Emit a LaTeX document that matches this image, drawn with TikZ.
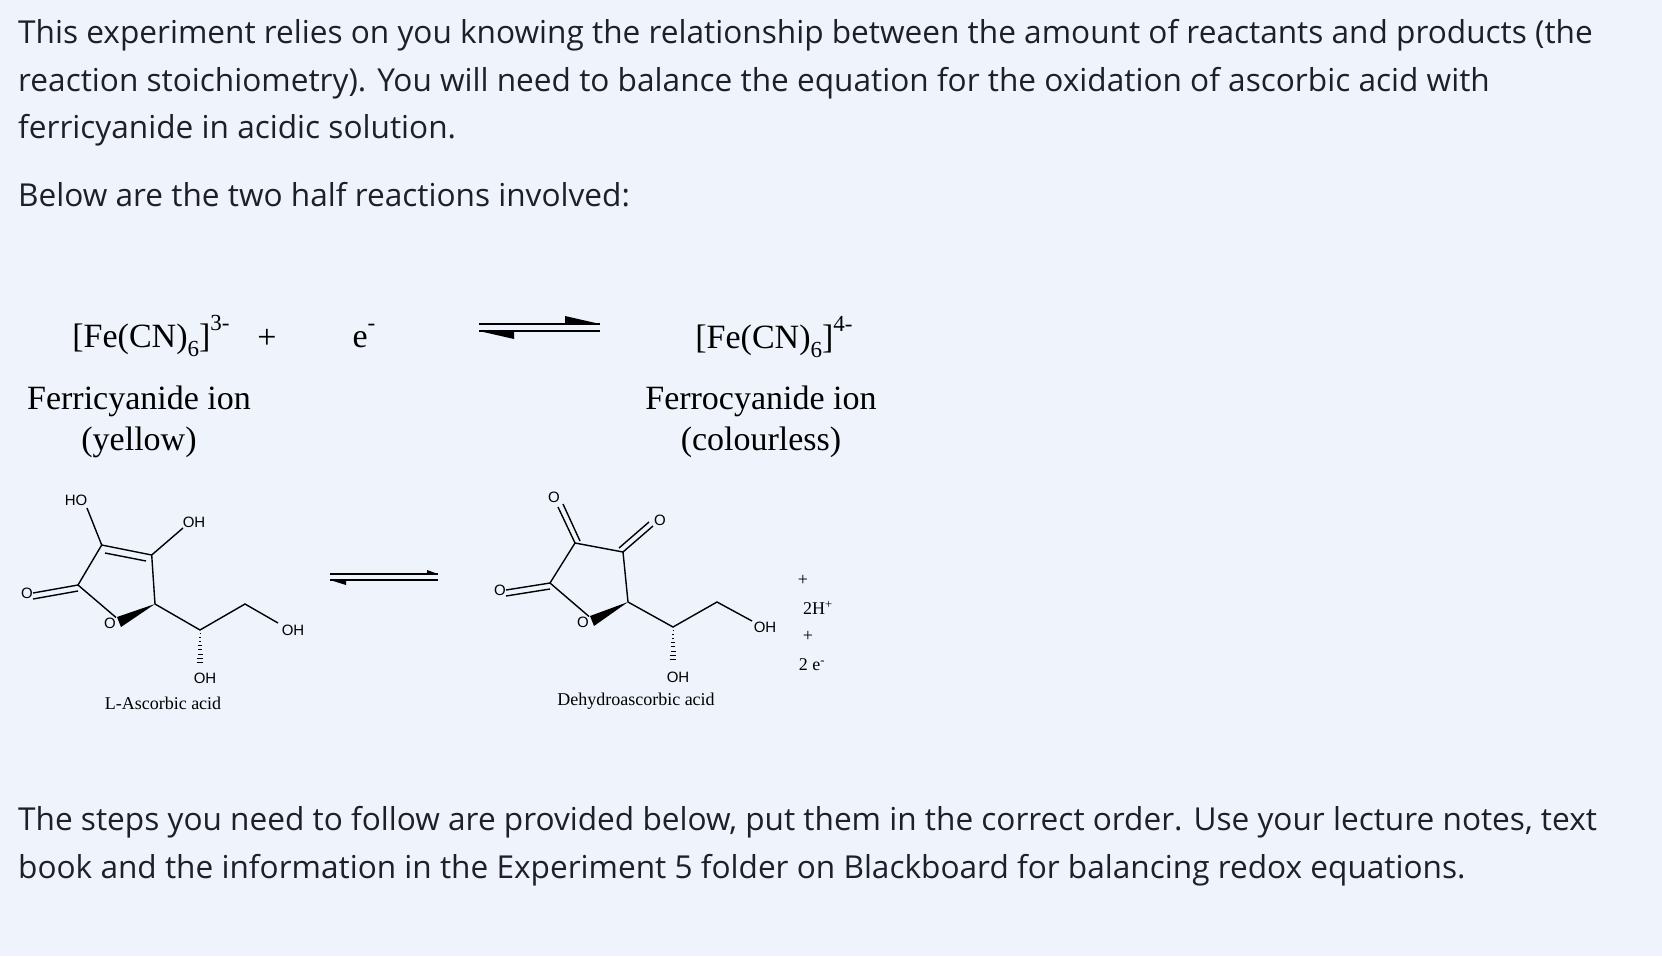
\documentclass[tikz,border=0pt]{standalone}
\usepackage{fontspec}
\usetikzlibrary{calc}
\setmainfont{Open Sans}
\newfontfamily\serifchem{Liberation Serif}
\newfontfamily\sanschem{Liberation Sans}
\definecolor{bg}{HTML}{EEF3FC}
\definecolor{ink}{HTML}{1E1F2B}
\newcommand{\mysub}[1]{\raisebox{-0.28em}{\fontsize{23}{24}\selectfont #1}}
\newcommand{\mysup}[1]{\raisebox{0.5em}{\fontsize{23}{24}\selectfont #1}}
\begin{document}
\begin{tikzpicture}[x=1pt,y=-1pt,
  body/.style={anchor=west,inner sep=0,text=ink,font=\fontsize{31.6}{36}\selectfont},
  eq/.style={inner sep=0,font=\serifchem\fontsize{34}{38}\selectfont},
  lbl/.style={inner sep=0,font=\serifchem\fontsize{18}{20}\selectfont},
  atom/.style={inner sep=0,font=\sanschem\fontsize{15}{16}\selectfont},
  bond/.style={line width=1.4pt},
  hash/.style={line width=1pt}]
\fill[bg] (0,0) rectangle (1662,956);
\useasboundingbox (0,0) rectangle (1662,956);
\node[body] (t1) at (18,35) {This experiment relies on you knowing the relationship between the amount of reactants and products (the};
\node[body] (t2) at (18,83) {reaction stoichiometry). You will need to balance the equation for the oxidation of ascorbic acid with};
\node[body] (t3) at (18,130) {ferricyanide in acidic solution.};
\node[body] (t4) at (18,195) {Below are the two half reactions involved:};
\node[body] (t5) at (18,822) {The steps you need to follow are provided below, put them in the correct order. Use your lecture notes, text};
\node[body] (t6) at (18,870) {book and the information in the Experiment 5 folder on Blackboard for balancing redox equations.};
% top equation
\node[eq] (fe3) at (151,336) {[Fe(CN)\mysub{6}]\mysup{3-}};
\node[eq] (p1) at (267,339) {+};
\node[eq] (el) at (364,336) {e\mysup{-}};
\node[eq] (fe4) at (774,337) {[Fe(CN)\mysub{6}]\mysup{4-}};
\node[eq] (n1) at (139,401) {Ferricyanide ion};
\node[eq] (n2) at (139,442) {(yellow)};
\node[eq] (n3) at (761,401) {Ferrocyanide ion};
\node[eq] (n4) at (761,442) {(colourless)};
\coordinate (a1) at (479,324); \coordinate (a2) at (600,324);
\coordinate (a3) at (479,331); \coordinate (a4) at (600,331);
\draw[line width=1.6pt] (a1) -- (a2);
\fill (a2) -- (565,316) -- (565,324) -- cycle;
\draw[line width=1.6pt] (a3) -- (a4);
\fill (a3) -- (514,339) -- (514,331) -- cycle;
% ascorbic acid
\coordinate (c1) at (101.7,545); \coordinate (c2) at (151.7,555);
\coordinate (c3) at (155,604); \coordinate (c4) at (78,585);
\coordinate (c5) at (200,630); \coordinate (c6) at (245,604);
\node[atom] (or1) at (110,623) {O};
\node[atom] (oc1) at (27,593) {O};
\node[atom] (ho1) at (76,500) {HO};
\node[atom] (oh1) at (194,522) {OH};
\node[atom] (oh2) at (293,630) {OH};
\node[atom] (oh3) at (205,678) {OH};
\draw[bond] (c4) -- (c1) -- (c2) -- (c3);
\draw[bond] (105,553) -- (146,561);
\draw[bond] (c4) -- (or1.north east);
\fill (c3) -- (117,617) -- (121,627) -- cycle;
\draw[bond] (c4) -- (oc1.east);
\draw[bond] ($(c4)+(0,6)$) -- ($(oc1.east)+(0,6)$);
\draw[bond] (c1) -- (87,508);
\draw[bond] (c2) -- (183,528);
\draw[bond] (c3) -- (c5) -- (c6) -- (278,623);
\foreach \i in {0,...,7} {\draw[hash] (200-0.5-\i*0.4,633+\i*4.2) -- (200+0.5+\i*0.4,633+\i*4.2);}
\node[lbl] (la) at (163,703) {L-Ascorbic acid};
% middle arrow
\coordinate (b1) at (330,574); \coordinate (b2) at (438,574);
\coordinate (b3) at (330,580); \coordinate (b4) at (438,580);
\draw[line width=1.3pt] (b1) -- (b2);
\fill (b2) -- (427,570) -- (427,574) -- cycle;
\draw[line width=1.3pt] (b3) -- (b4);
\fill (b3) -- (346,585) -- (346,580) -- cycle;
% dehydroascorbic acid
\coordinate (d1) at (575,543); \coordinate (d2) at (623,552);
\coordinate (d3) at (628,602); \coordinate (d4) at (550,583);
\coordinate (d5) at (673,627); \coordinate (d6) at (717,602);
\node[atom] (or2) at (583,622) {O};
\node[atom] (oc2) at (500,590) {O};
\node[atom] (oc3) at (554,497) {O};
\node[atom] (oc4) at (660,520) {O};
\node[atom] (oh4) at (765,627) {OH};
\node[atom] (oh5) at (678,677) {OH};
\draw[bond] (d4) -- (d1) -- (d2) -- (d3);
\draw[bond] (d4) -- (or2.north east);
\fill (d3) -- (590,616) -- (594,626) -- cycle;
\draw[bond] (d4) -- (oc2.east);
\draw[bond] ($(d4)+(0,6)$) -- ($(oc2.east)+(0,6)$);
\draw[bond] (d1) -- (558,507);
\draw[bond] ($(d1)+(5,-2)$) -- (563,504);
\draw[bond] (d2) -- (653,526);
\draw[bond] ($(d2)+(-4,-4)$) -- (649,522);
\draw[bond] (d3) -- (d5) -- (d6) -- (752,621);
\foreach \i in {0,...,7} {\draw[hash] (673-0.5-\i*0.4,630+\i*4.2) -- (673+0.5+\i*0.4,630+\i*4.2);}
\node[lbl] (ld) at (636,701) {Dehydroascorbic acid};
\node[lbl] (q1) at (803,580) {+};
\node[lbl] (q2) at (818,608) {2H\textsuperscript{+}};
\node[lbl] (q3) at (808,636) {+};
\node[lbl] (q4) at (812,665) {2 e\textsuperscript{-}};
\end{tikzpicture}
\end{document}
